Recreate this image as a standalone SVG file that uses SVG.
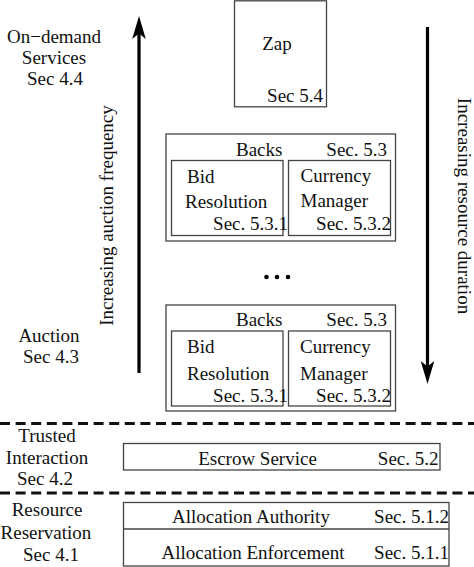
<svg xmlns="http://www.w3.org/2000/svg" width="474" height="567" viewBox="0 0 474 567">
<style>
text{font-family:"Liberation Serif","Times New Roman",serif;font-size:19px;fill:#111}
.box{fill:#fff;stroke:#444;stroke-width:1.3}
.m{text-anchor:middle}
.e{text-anchor:end}
.dash{stroke:#111;stroke-width:3;stroke-dasharray:10 5.6}
.shaft{stroke:#000;stroke-width:3.2;fill:none}
.head{fill:#000}
</style>
<rect width="474" height="567" fill="#fff"/>

<g id="layer-labels">
<text class="m" x="54" y="43">On−demand</text>
<text class="m" x="54" y="64">Services</text>
<text class="m" x="55" y="85">Sec 4.4</text>
<text class="m" x="49" y="342">Auction</text>
<text class="m" x="51" y="363">Sec 4.3</text>
<text class="m" x="47" y="442">Trusted</text>
<text class="m" x="47" y="464">Interaction</text>
<text class="m" x="45" y="485">Sec 4.2</text>
<text class="m" x="47" y="516">Resource</text>
<text class="m" x="46" y="539">Reservation</text>
<text class="m" x="51" y="561">Sec 4.1</text>
</g>

<g id="dividers">
<line class="dash" x1="0" y1="423.5" x2="474" y2="423.5"/>
<line class="dash" x1="0" y1="493" x2="474" y2="493"/>
</g>

<g id="zap">
<rect class="box" x="234.5" y="0.8" width="92" height="106"/>
<text class="m" x="277" y="50">Zap</text>
<text class="e" x="323" y="101.5">Sec 5.4</text>
</g>

<g id="backs1">
<rect class="box" x="166" y="134" width="229.5" height="107"/>
<text x="236" y="155.5">Backs</text>
<text class="e" x="387" y="155.5">Sec. 5.3</text>
<g id="bid1">
<rect class="box" x="171.5" y="160.5" width="111.5" height="75"/>
<text x="187" y="183">Bid</text>
<text x="185" y="208">Resolution</text>
<text class="e" x="288" y="230">Sec. 5.3.1</text>
</g>
<g id="currency1">
<rect class="box" x="288.5" y="160.5" width="102" height="75"/>
<text x="300.5" y="182">Currency</text>
<text x="300.5" y="207">Manager</text>
<text class="e" x="391" y="230">Sec. 5.3.2</text>
</g>
</g>

<g id="ellipsis">
<circle cx="266.5" cy="277" r="2.3" fill="#000"/>
<circle cx="277" cy="277" r="2.3" fill="#000"/>
<circle cx="288" cy="277" r="2.3" fill="#000"/>
</g>

<g id="backs2">
<rect class="box" x="166" y="305" width="229.5" height="106"/>
<text x="236" y="326">Backs</text>
<text class="e" x="387" y="326">Sec. 5.3</text>
<g id="bid2">
<rect class="box" x="171.5" y="331" width="111.5" height="75"/>
<text x="187" y="353">Bid</text>
<text x="187" y="380">Resolution</text>
<text class="e" x="288" y="401.5">Sec. 5.3.1</text>
</g>
<g id="currency2">
<rect class="box" x="288.5" y="331" width="102" height="75"/>
<text x="300" y="353">Currency</text>
<text x="300" y="380">Manager</text>
<text class="e" x="391" y="401.5">Sec. 5.3.2</text>
</g>
</g>

<g id="escrow">
<rect class="box" x="123.5" y="443.5" width="316.5" height="26.5"/>
<text class="m" x="257.5" y="464.5">Escrow Service</text>
<text class="e" x="438.5" y="464.5">Sec. 5.2</text>
</g>

<g id="allocation">
<rect class="box" x="123.5" y="502.5" width="325.5" height="63.5"/>
<line x1="123.5" y1="529" x2="449" y2="529" stroke="#444" stroke-width="1.3"/>
<g id="authority">
<text class="m" x="251" y="522.5">Allocation Authority</text>
<text class="e" x="449" y="522.5">Sec. 5.1.2</text>
</g>
<g id="enforcement">
<text class="m" x="253" y="558.5">Allocation Enforcement</text>
<text class="e" x="449" y="558.5">Sec. 5.1.1</text>
</g>
</g>

<g id="connectors">
<line class="shaft" x1="139" y1="373" x2="139" y2="32"/>
<path class="head" d="M139,16 L145.8,39 L139,33.5 L132.2,39 Z"/>
<text class="m" transform="translate(113,215.5) rotate(-90)">Increasing auction frequency</text>
<line class="shaft" x1="427.5" y1="27" x2="427.5" y2="368"/>
<path class="head" d="M427.5,384 L434.3,361 L427.5,366.5 L420.7,361 Z"/>
<text class="m" transform="translate(457.5,206) rotate(90)">Increasing resource duration</text>
</g>
</svg>
